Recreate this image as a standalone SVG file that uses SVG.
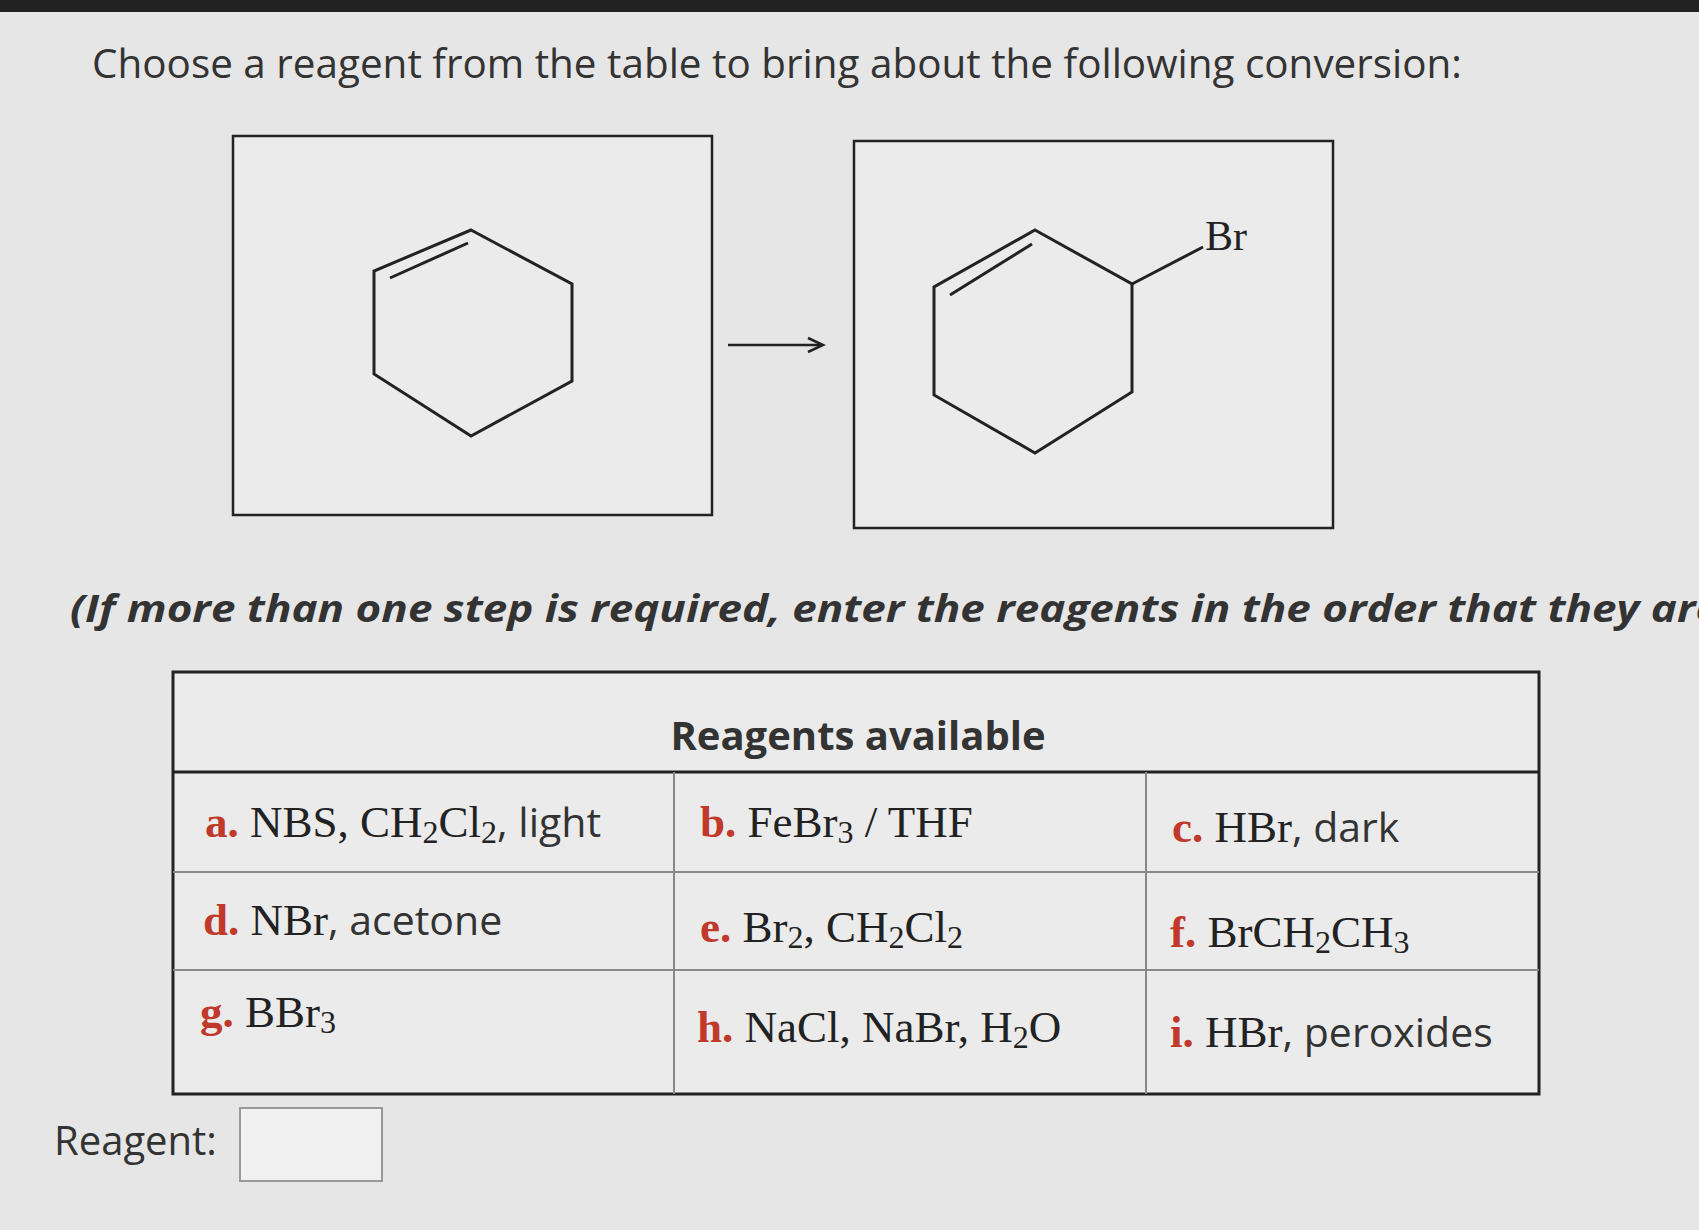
<svg xmlns="http://www.w3.org/2000/svg" width="1699" height="1230" viewBox="0 0 1699 1230">
<style>
.s{font-family:"Open Sans","Liberation Sans",sans-serif;fill:#333}
.f{font-family:"Liberation Serif",serif;fill:#222}
.l{font-family:"Liberation Serif",serif;fill:#c0392b;font-weight:bold}
.c{font-size:45px}
.ln{stroke:#222;stroke-width:3;fill:none}
</style>
<rect width="1699" height="1230" fill="#e6e6e6"/>
<rect width="1699" height="12" fill="#222"/>
<text class="s" x="92" y="78" font-size="41" textLength="1370" lengthAdjust="spacingAndGlyphs">Choose a reagent from the table to bring about the following conversion:</text>
<g id="reactant">
<rect x="233" y="136" width="479" height="379" fill="#ebebeb" stroke="#222" stroke-width="2.5"/>
<polygon class="ln" points="471,230 572,284 572,381 471,436 374,374 374,271"/>
<line class="ln" x1="390" y1="278" x2="468" y2="243"/>
</g>
<g id="connectors">
<line x1="728" y1="345" x2="820" y2="345" stroke="#222" stroke-width="2.5"/>
<path d="M808,338 L823,345 L808,352" fill="none" stroke="#222" stroke-width="2.5"/>
</g>
<g id="product">
<rect x="854" y="141" width="479" height="387" fill="#ebebeb" stroke="#222" stroke-width="2.5"/>
<polygon class="ln" points="1035,230 1132,284 1132,392 1035,453 934,395 934,287"/>
<line class="ln" x1="950" y1="295" x2="1032" y2="244"/>
<line class="ln" x1="1132" y1="284" x2="1203" y2="247"/>
<text class="f" x="1205" y="250" font-size="42">Br</text>
</g>
<text class="s" x="70" y="622" font-size="38" font-weight="bold" font-style="italic" textLength="1650" lengthAdjust="spacingAndGlyphs">(If more than one step is required, enter the reagents in the order that they are</text>
<g id="table">
<rect x="173" y="672" width="1366" height="422" fill="#ebebeb" stroke="#222" stroke-width="3"/>
<line class="ln" x1="173" y1="772" x2="1539" y2="772"/>
<line x1="173" y1="872" x2="1539" y2="872" stroke="#888" stroke-width="2"/>
<line x1="173" y1="970" x2="1539" y2="970" stroke="#888" stroke-width="2"/>
<line x1="674" y1="772" x2="674" y2="1094" stroke="#888" stroke-width="2"/>
<line x1="1146" y1="772" x2="1146" y2="1094" stroke="#888" stroke-width="2"/>
<text class="s" x="858" y="750" font-size="40" font-weight="bold" text-anchor="middle">Reagents available</text>
<text x="205" y="837" class="c"><tspan class="l">a. </tspan><tspan class="f">NBS, CH<tspan font-size="32" dy="6">2</tspan><tspan dy="-6">Cl</tspan><tspan font-size="32" dy="6">2</tspan></tspan><tspan class="s" dy="-6" font-size="41">, light</tspan></text>
<text x="700" y="837" class="c"><tspan class="l">b. </tspan><tspan class="f">FeBr<tspan font-size="32" dy="6">3</tspan><tspan dy="-6"> / THF</tspan></tspan></text>
<text x="1172" y="842" class="c"><tspan class="l">c. </tspan><tspan class="f">HBr</tspan><tspan class="s" font-size="41">, dark</tspan></text>
<text x="203" y="935" class="c"><tspan class="l">d. </tspan><tspan class="f">NBr</tspan><tspan class="s" font-size="41">, acetone</tspan></text>
<text x="700" y="942" class="c"><tspan class="l">e. </tspan><tspan class="f">Br<tspan font-size="32" dy="6">2</tspan><tspan dy="-6">, CH</tspan><tspan font-size="32" dy="6">2</tspan><tspan dy="-6">Cl</tspan><tspan font-size="32" dy="6">2</tspan></tspan></text>
<text x="1170" y="947" class="c"><tspan class="l">f. </tspan><tspan class="f">BrCH<tspan font-size="32" dy="6">2</tspan><tspan dy="-6">CH</tspan><tspan font-size="32" dy="6">3</tspan></tspan></text>
<text x="200" y="1027" class="c"><tspan class="l">g. </tspan><tspan class="f">BBr<tspan font-size="32" dy="6">3</tspan></tspan></text>
<text x="697" y="1042" class="c"><tspan class="l">h. </tspan><tspan class="f">NaCl, NaBr, H<tspan font-size="32" dy="6">2</tspan><tspan dy="-6">O</tspan></tspan></text>
<text x="1170" y="1047" class="c"><tspan class="l">i. </tspan><tspan class="f">HBr</tspan><tspan class="s" font-size="41">, peroxides</tspan></text>
</g>
<text class="s" x="54" y="1155" font-size="40">Reagent:</text>
<rect id="answer" x="240" y="1108" width="142" height="73" fill="#f0f0f0" stroke="#999" stroke-width="2"/>
</svg>
